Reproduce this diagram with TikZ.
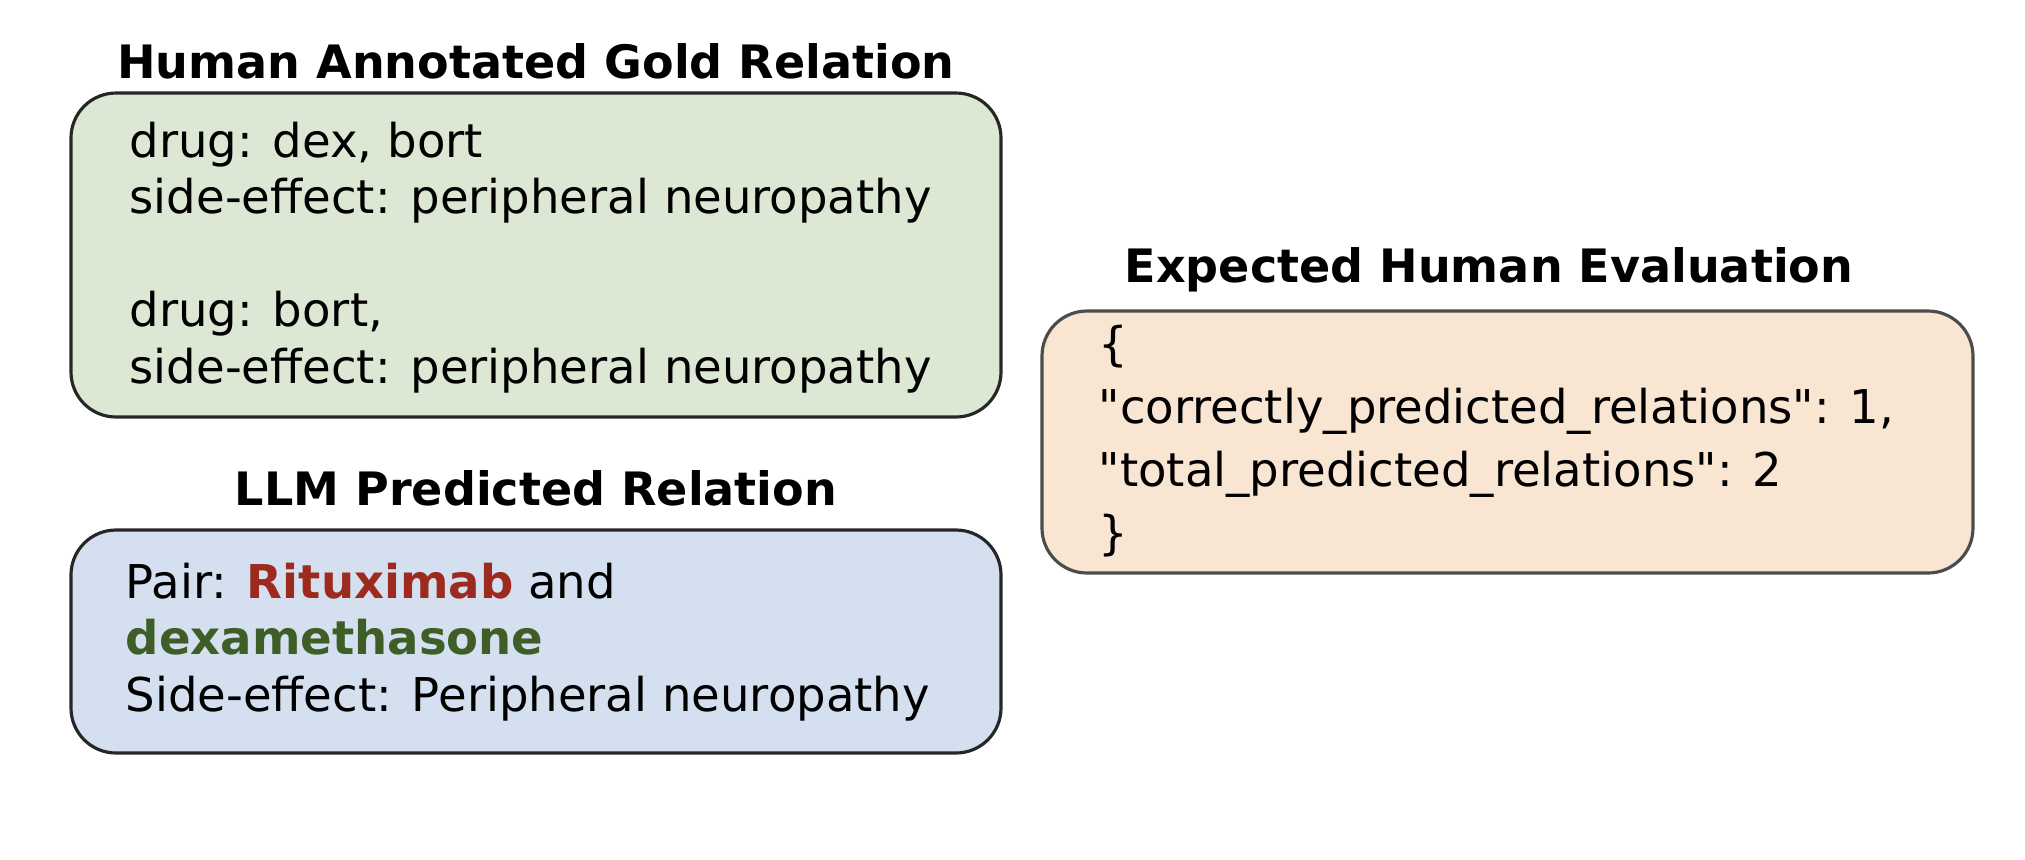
\documentclass[tikz,border=0pt]{standalone}
\usepackage{fontspec}
\setmainfont{DejaVu Sans}[Ligatures=TeXOff]
\usepackage{xcolor}
\definecolor{goldfill}{HTML}{DCE8D4}
\definecolor{llmfill}{HTML}{D4E0EF}
\definecolor{evalfill}{HTML}{F8E5D2}
\definecolor{drugred}{HTML}{9C2A1F}
\definecolor{druggreen}{HTML}{3E5E28}

\begin{document}
\begin{tikzpicture}[
    panel/.style={draw=black!85, line width=0.9pt, rounded corners=0.45cm, inner sep=0pt},
    heading/.style={font=\fontsize{13.1}{15}\selectfont\bfseries},
    body/.style={align=left, inner sep=0pt, font=\fontsize{13.25}{16.1}\selectfont}
  ]
        \useasboundingbox (0,0) rectangle (20.25,-8.59);
        % gold relation
        \node (goldtitle) [heading] at (5.36,-0.61) {Human Annotated Gold Relation};
        \node (goldbox) [panel, fill=goldfill, minimum width=9.30cm, minimum height=3.24cm] at (5.36,-2.55) {};
        \node (goldtext) [body, anchor=west] at (1.29,-2.575) {drug: dex, bort\\
          side-effect: peripheral neuropathy\\[16.1pt]
          drug: bort,\\
          side-effect: peripheral neuropathy};
        % llm prediction
        \node (llmtitle) [heading] at (5.36,-4.88) {LLM Predicted Relation};
        \node (llmbox) [panel, fill=llmfill, minimum width=9.30cm, minimum height=2.23cm] at (5.36,-6.415) {};
        \node (llmtext) [body, anchor=west] at (1.25,-6.42) {Pair: {\bfseries\color{drugred}Rituximab} and\\
          {\bfseries\color{druggreen}dexamethasone}\\
          Side-effect: Peripheral neuropathy};
        % expected evaluation
        \node (evaltitle) [heading] at (14.89,-2.70) {Expected Human Evaluation};
        \node (evalbox) [panel, draw=black!70, fill=evalfill, minimum width=9.31cm, minimum height=2.62cm] at (15.075,-4.42) {};
        \node (evaltext) [body, anchor=west, font=\fontsize{13.25}{17.9}\selectfont] at (10.98,-4.41) {\{\\
          "correctly\_predicted\_relations": 1,\\
          "total\_predicted\_relations": 2\\
          \}};
\end{tikzpicture}
\end{document}
